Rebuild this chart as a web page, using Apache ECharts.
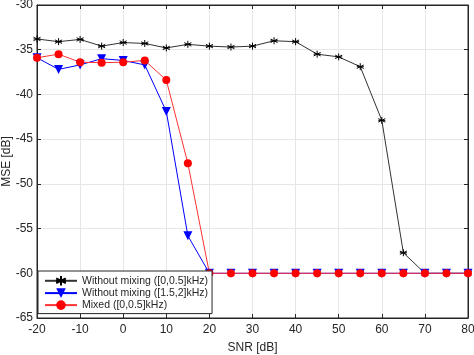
<!DOCTYPE html>
<html>
<head>
<meta charset="utf-8">
<script src="https://cdn.jsdelivr.net/npm/echarts@6/dist/echarts.min.js"></script>
<style>html,body{margin:0;padding:0;background:#fff;}#c{width:474px;height:355px;}</style>
</head>
<body>
<div id="c"></div>
<script>
const snr = [-20,-15,-10,-5,0,5,10,15,20,25,30,35,40,45,50,55,60,65,70,75,80];
const mseNoMixLow = [-33.8,-34.1,-33.85,-34.6,-34.2,-34.3,-34.8,-34.4,-34.6,-34.7,-34.6,-34.0,-34.1,-35.5,-35.8,-36.9,-42.9,-57.7,-60,-60,-60];
const mseNoMixHigh = [-35.9,-37.2,-36.7,-36.0,-36.2,-36.7,-41.9,-55.8,-60,-60,-60,-60,-60,-60,-60,-60,-60,-60,-60,-60,-60];
const mseMixed = [-35.9,-35.5,-36.4,-36.45,-36.4,-36.2,-38.4,-47.7,-60,-60,-60,-60,-60,-60,-60,-60,-60,-60,-60,-60,-60];
const seriesNames = ['Without mixing ([0,0.5]kHz)','Without mixing ([1.5,2]kHz)','Mixed ([0,0.5]kHz)'];
const xTicks = {min:-20,max:80,interval:10};
const yTicks = {min:-65,max:-30,interval:5};

const pair = (ys) => snr.map((x,i)=>[x,ys[i]]);
const font = 'Liberation Sans, Arial, sans-serif';
const txt = '#262626';
const star = 'path://M0,-5L0,5M-4.33,-2.5L4.33,2.5M-4.33,2.5L4.33,-2.5M-4.33,0L4.33,0';

const chart = echarts.init(document.getElementById('c'));
chart.setOption({
  animation:false,
  textStyle:{fontFamily:font},
  grid:{left:37,right:6,top:5,bottom:37,containLabel:false,outerBoundsMode:'none',
        show:true,borderColor:'#262626',borderWidth:1,backgroundColor:'#fff'},
  xAxis:[{
    type:'value',min:xTicks.min,max:xTicks.max,interval:xTicks.interval,
    name:'SNR [dB]',nameLocation:'middle',nameGap:24,nameMoveOverlap:false,
    nameTextStyle:{fontSize:12,color:txt,fontFamily:font},
    axisLine:{show:true,onZero:false,lineStyle:{color:'#262626',width:1}},
    axisTick:{show:true,inside:true,length:4,lineStyle:{color:'#262626'}},
    axisLabel:{fontSize:12,color:txt,margin:6,fontFamily:font},
    splitLine:{show:true,lineStyle:{color:'#e6e6e6',width:1}}
  },{
    type:'value',position:'top',min:xTicks.min,max:xTicks.max,interval:xTicks.interval,
    axisLine:{show:true,onZero:false,lineStyle:{color:'#262626'}},
    axisTick:{show:true,inside:true,length:4,lineStyle:{color:'#262626'}},
    axisLabel:{show:false},splitLine:{show:false}
  }],
  yAxis:[{
    type:'value',min:yTicks.min,max:yTicks.max,interval:yTicks.interval,
    name:'MSE [dB]',nameLocation:'middle',nameGap:24,nameMoveOverlap:false,
    nameTextStyle:{fontSize:12,color:txt,fontFamily:font},
    axisLine:{show:true,onZero:false,lineStyle:{color:'#262626',width:1}},
    axisTick:{show:true,inside:true,length:4,lineStyle:{color:'#262626'}},
    axisLabel:{fontSize:12,color:txt,margin:4,fontFamily:font},
    splitLine:{show:true,lineStyle:{color:'#e6e6e6',width:1}}
  },{
    type:'value',position:'right',min:yTicks.min,max:yTicks.max,interval:yTicks.interval,
    axisLine:{show:true,onZero:false,lineStyle:{color:'#262626'}},
    axisTick:{show:true,inside:true,length:4,lineStyle:{color:'#262626'}},
    axisLabel:{show:false},splitLine:{show:false}
  }],
  legend:{
    orient:'vertical',left:38,top:271,
    backgroundColor:'#fff',borderColor:'#262626',borderWidth:1,
    padding:[4,4,3,6],itemGap:1,itemWidth:32,itemHeight:12,
    textStyle:{fontSize:10.5,color:txt,fontFamily:font},
    data:seriesNames
  },
  series:[{
    name:seriesNames[0],type:'line',data:pair(mseNoMixLow),
    symbol:star,symbolSize:7,
    lineStyle:{color:'#333',width:1},
    itemStyle:{color:'#000',borderColor:'#000',borderWidth:1}
  },{
    name:seriesNames[1],type:'line',data:pair(mseNoMixHigh),
    symbol:'triangle',symbolRotate:180,symbolSize:9,
    lineStyle:{color:'#0000ff',width:1},
    itemStyle:{color:'#0000ff',borderWidth:0}
  },{
    name:seriesNames[2],type:'line',data:pair(mseMixed),
    symbol:'circle',symbolSize:8,
    lineStyle:{color:'#ff3333',width:1},
    itemStyle:{color:'#ff0000',borderWidth:0}
  }]
});
</script>
</body>
</html>
